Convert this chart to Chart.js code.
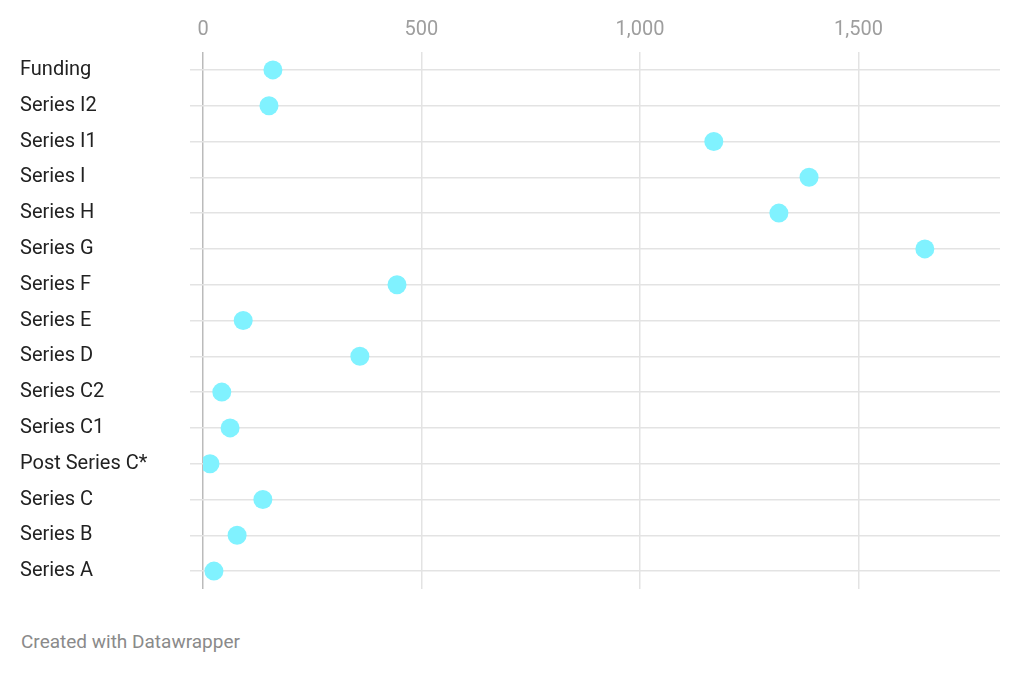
<!DOCTYPE html>
<html><head><meta charset="utf-8">
<script src="https://cdn.jsdelivr.net/npm/chart.js@4"></script>
<style>body{margin:0;background:#fff;font-family:Roboto,sans-serif}#w{position:relative;width:1024px;height:605px}
#f{position:absolute;left:21px;top:630px;color:#8a8a8a;font-size:19px;font-family:Roboto}</style>
</head><body><div id="w"><canvas id="c"></canvas></div><div id="f">Created with Datawrapper</div>
<script>
const categories=["Funding","Series I2","Series I1","Series I","Series H","Series G","Series F","Series E","Series D","Series C2","Series C1","Post Series C*","Series C","Series B","Series A"];
const values=[160,151,1169,1387,1318,1652,444,92,359,43,62,16,137,78,25];
const xTicks=[0,500,1000,1500];
new Chart(document.getElementById('c'),{type:'scatter',
data:{datasets:[{data:categories.map((c,i)=>({x:values[i],y:c})),backgroundColor:'#80f2ff',borderWidth:0,pointRadius:9.5,pointHoverRadius:9.5}]},
options:{responsive:true,maintainAspectRatio:false,animation:false,
layout:{padding:{left:20,right:24,bottom:10,top:8}},
plugins:{legend:{display:false},tooltip:{enabled:false}},
scales:{
x:{type:'linear',position:'top',min:0,max:1824,border:{display:false},
afterBuildTicks:a=>{a.ticks=xTicks.map(v=>({value:v}));},
grid:{color:c=>c.tick&&c.tick.value===0?'#bbbbbb':'#e3e3e3',lineWidth:1.5,drawTicks:false},
ticks:{color:'#9e9e9e',font:{size:20,family:'Roboto'},padding:10,callback:v=>v.toLocaleString('en-US')}},
y:{type:'category',labels:categories,offset:true,border:{display:false},
afterFit:a=>{a.width=183;},
grid:{offset:false,color:'#e3e3e3',lineWidth:1.5,tickLength:13},
ticks:{color:'#222',font:{size:20,family:'Roboto'},crossAlign:'far',padding:4}}
}}});
</script></body></html>
